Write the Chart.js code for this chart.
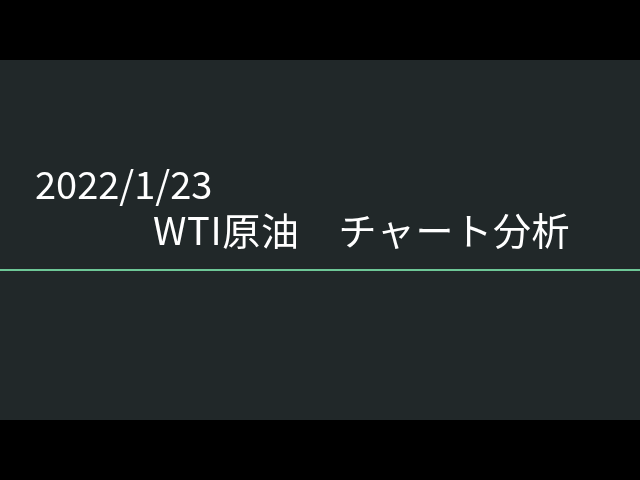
<!DOCTYPE html>
<html>
<head>
<meta charset="utf-8">
<script src="https://cdn.jsdelivr.net/npm/chart.js@4"></script>
<style>
  html, body { margin: 0; padding: 0; background: #000; width: 640px; height: 480px; overflow: hidden; }
  #panel { position: absolute; left: 0; top: 60px; width: 640px; height: 360px; background: #212829; }
  #wrap { position: absolute; left: 0; top: 0; width: 640px; height: 360px; }
  .t { position: absolute; color: #fff; font-family: "Noto Sans CJK JP", "Noto Sans", sans-serif; font-size: 38px; line-height: 1; white-space: pre; }
</style>
</head>
<body>
<div id="panel">
  <div id="wrap"><canvas id="myChart"></canvas></div>
  <div class="t" id="date" style="left:35px; top:104px;"></div>
  <div class="t" id="title" style="left:153px; top:150px; letter-spacing:0.7px;"></div>
</div>
<script>
const dateText = "2022/1/23";
const titleText = "WTI原油　チャート分析";
const lineLabels = ["start", "end"];
const lineValues = [150, 150];

document.getElementById("date").textContent = dateText;
document.getElementById("title").textContent = titleText;

new Chart("myChart", {
    type: "line",
    data: {
        labels: lineLabels,
        datasets: [{
            data: lineValues,
            borderColor: "#6ec897",
            borderWidth: 2,
            pointRadius: 0,
            fill: false
        }]
    },
    options: {
        responsive: true,
        maintainAspectRatio: false,
        animation: false,
        layout: { padding: 0 },
        plugins: { legend: { display: false }, tooltip: { enabled: false } },
        scales: {
            x: { display: false, offset: false },
            y: { display: false, min: 0, max: 360 }
        }
    }
});
</script>
</body>
</html>
